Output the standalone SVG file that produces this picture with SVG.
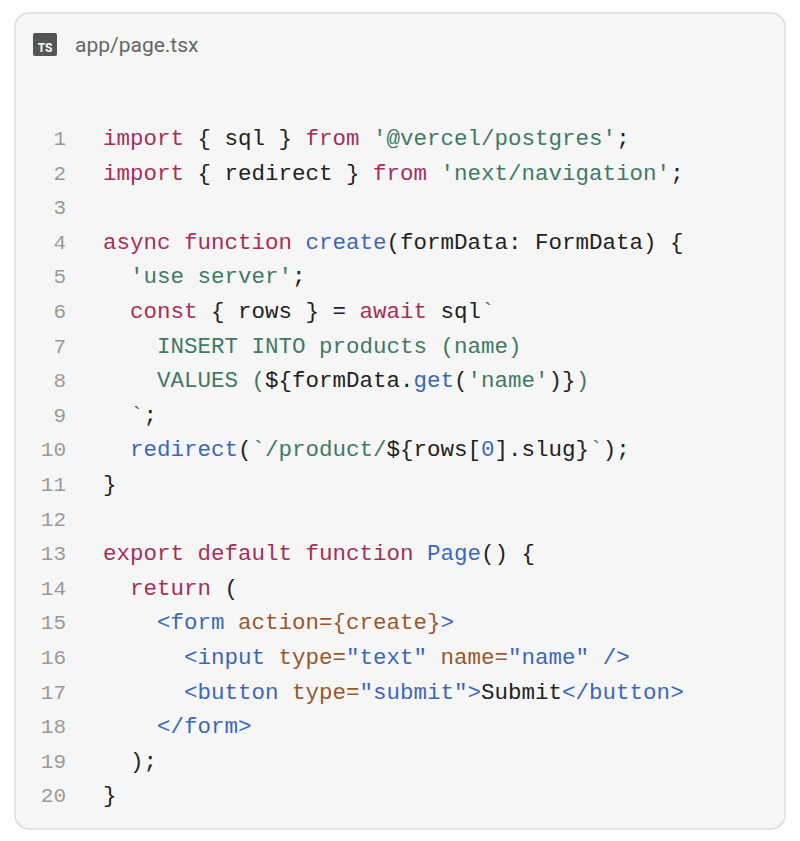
<svg xmlns="http://www.w3.org/2000/svg" width="800" height="841" viewBox="0 0 800 841">
<style>
.c{font-family:"Liberation Mono","DejaVu Sans Mono",monospace;font-size:22.5px;fill:#222;white-space:pre}
.n{font-family:"Liberation Mono","DejaVu Sans Mono",monospace;font-size:21px;fill:#9a9a9a;text-anchor:end}
.k{fill:#a62f5a}.s{fill:#3f7a68}.f{fill:#3b67bf}.a{fill:#99582a}
</style>
<rect width="800" height="841" fill="#fff"/>
<g id="card">
<rect x="15" y="13" width="770" height="816" rx="14" fill="#f6f6f6" stroke="#dcdcdc" stroke-width="1.5"/>
</g>
<g id="header">
<rect x="33" y="33" width="24" height="23" rx="2" fill="#555"/>
<text x="45" y="52" font-family="Roboto,'Liberation Sans',sans-serif" font-size="12" font-weight="bold" fill="#fff" text-anchor="middle">TS</text>
<text x="75" y="52" font-family="Roboto,'Liberation Sans',sans-serif" font-size="21" fill="#666">app/page.tsx</text>
</g>
<g id="lines" class="n">
<text x="66" y="145">1</text><text x="66" y="180">2</text><text x="66" y="214">3</text><text x="66" y="249">4</text><text x="66" y="283">5</text><text x="66" y="318">6</text><text x="66" y="353">7</text><text x="66" y="387">8</text><text x="66" y="422">9</text><text x="66" y="456">10</text><text x="66" y="491">11</text><text x="66" y="526">12</text><text x="66" y="560">13</text><text x="66" y="595">14</text><text x="66" y="629">15</text><text x="66" y="664">16</text><text x="66" y="699">17</text><text x="66" y="733">18</text><text x="66" y="768">19</text><text x="66" y="802">20</text>
</g>
<g id="code" class="c" xml:space="preserve">
<text x="103" y="145"><tspan class="k">import</tspan> { sql } <tspan class="k">from</tspan> <tspan class="s">'@vercel/postgres'</tspan>;</text>
<text x="103" y="180"><tspan class="k">import</tspan> { redirect } <tspan class="k">from</tspan> <tspan class="s">'next/navigation'</tspan>;</text>
<text x="103" y="249"><tspan class="k">async function</tspan> <tspan class="f">create</tspan>(formData: FormData) {</text>
<text x="130" y="283"><tspan class="s">'use server'</tspan>;</text>
<text x="130" y="318"><tspan class="k">const</tspan> { rows } = <tspan class="k">await</tspan> sql<tspan class="s">`</tspan></text>
<text x="157" y="353" class="s">INSERT INTO products (name)</text>
<text x="157" y="387"><tspan class="s">VALUES (</tspan>${formData.<tspan class="f">get</tspan>(<tspan class="s">'name'</tspan>)}<tspan class="s">)</tspan></text>
<text x="130" y="422"><tspan class="s">`</tspan>;</text>
<text x="130" y="456"><tspan class="f">redirect</tspan>(<tspan class="s">`/product/</tspan>${rows[<tspan class="f">0</tspan>].slug}<tspan class="s">`</tspan>);</text>
<text x="103" y="491">}</text>
<text x="103" y="560"><tspan class="k">export default function</tspan> <tspan class="f">Page</tspan>() {</text>
<text x="130" y="595"><tspan class="k">return</tspan> (</text>
<text x="157" y="629"><tspan class="f">&lt;form</tspan> <tspan class="a">action={create}</tspan><tspan class="f">&gt;</tspan></text>
<text x="184" y="664"><tspan class="f">&lt;input</tspan> <tspan class="a">type=</tspan><tspan class="f">"text"</tspan> <tspan class="a">name=</tspan><tspan class="f">"name"</tspan> <tspan class="f">/&gt;</tspan></text>
<text x="184" y="699"><tspan class="f">&lt;button</tspan> <tspan class="a">type=</tspan><tspan class="f">"submit"</tspan><tspan class="f">&gt;</tspan>Submit<tspan class="f">&lt;/button&gt;</tspan></text>
<text x="157" y="733"><tspan class="f">&lt;/form&gt;</tspan></text>
<text x="130" y="768">);</text>
<text x="103" y="802">}</text>
</g>
</svg>
